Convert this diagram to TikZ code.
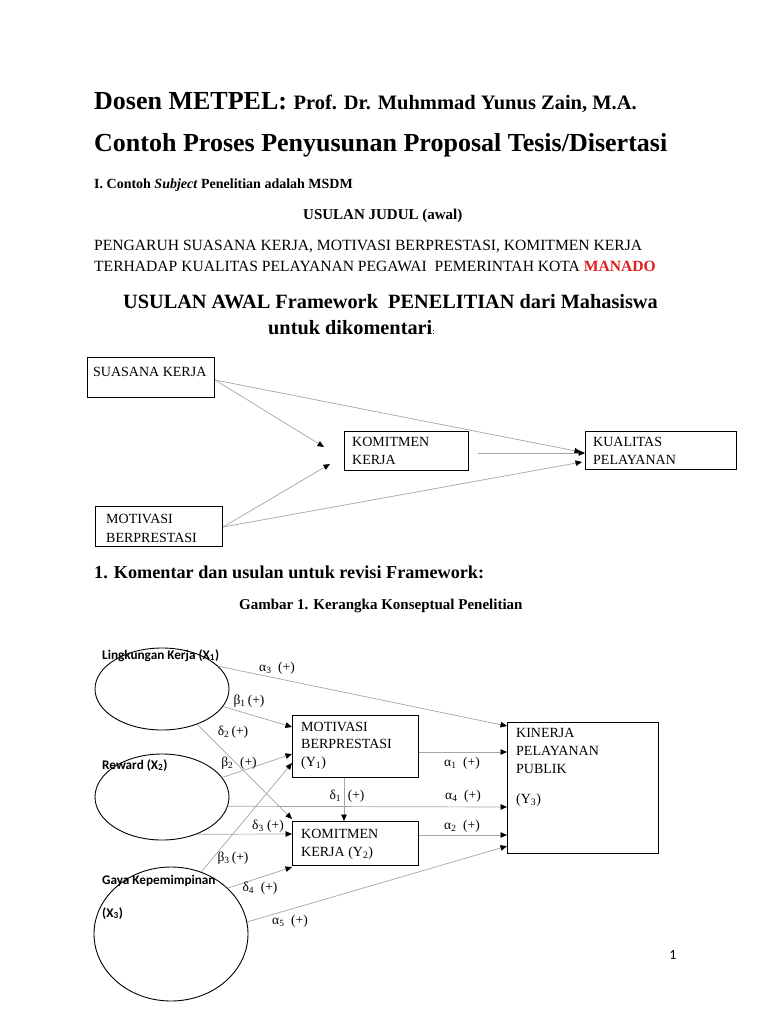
\documentclass[tikz,border=0pt]{standalone}
\usepackage{fontspec}
\setmainfont{Liberation Serif}
\newfontfamily\carlito{Carlito}
\usetikzlibrary{arrows.meta,shapes.geometric}
\newcommand\fs[1]{\fontsize{#1}{#1}\selectfont}
\definecolor{ln}{RGB}{165,165,165}
\definecolor{mred}{RGB}{225,30,30}
\begin{document}
\begin{tikzpicture}[x=1pt,y=-1pt,
  box/.style={draw=black,line width=1.1pt,inner sep=0pt,anchor=north west},
  ell/.style={draw=black,ellipse,line width=0.9pt,inner sep=0pt},
  con/.style={draw=ln,line width=0.7pt,-{Triangle[length=6.5pt,width=5.5pt,color=black]}},
  txt/.style={anchor=base west,inner sep=0pt,font=\fs{14}},
  hd/.style={anchor=base west,inner sep=0pt},
  sans/.style={anchor=base west,inner sep=0pt,font=\carlito\bfseries\fs{13.2}},
  lab/.style={inner sep=0pt,font=\fs{13.5}}
]
\fill[white] (0,0) rectangle (768,1024);
\useasboundingbox (0,0) rectangle (768,1024);

% headings
\node[hd] (h1) at (94,110) {\fs{26}\bfseries Dosen METPEL: {\fs{20.5}Prof. Dr. Muhmmad Yunus Zain, M.A.}};
\node[hd] (h2) at (94,152) {\fs{26}\bfseries Contoh Proses Penyusunan Proposal Tesis/Disertasi};
\node[hd] (h3) at (94,189) {\fs{14}\bfseries I. Contoh \textit{Subject} Penelitian adalah MSDM};
\node[hd] (h4) at (303,220) {\fs{15}\bfseries USULAN JUDUL (awal)};
\node[hd] (t1) at (94,251) {\fs{15.6}PENGARUH SUASANA KERJA, MOTIVASI BERPRESTASI, KOMITMEN KERJA};
\node[hd] (t2) at (94,271) {\fs{15.6}TERHADAP KUALITAS PELAYANAN PEGAWAI\ \ PEMERINTAH KOTA {\color{mred}\bfseries MANADO}};
\node[hd] (h5) at (123,308) {\fs{20.3}\bfseries USULAN AWAL Framework\ \ PENELITIAN dari Mahasiswa};
\node[hd] (h6) at (268,334) {\fs{20.3}\bfseries untuk dikomentari{\fs{9}\mdseries :}};
\node[hd] (h7) at (94,578) {\fs{18.2}\bfseries 1. Komentar dan usulan untuk revisi Framework:};
\node[hd] (h8) at (239,609) {\fs{15}\bfseries Gambar 1. Kerangka Konseptual Penelitian};

% upper diagram
\node[box,minimum width=127pt,minimum height=40pt] (sk) at (87,357) {};
\node[txt] (skt) at (93,376) {SUASANA KERJA};
\node[box,minimum width=124pt,minimum height=39pt] (kk) at (344,431) {};
\node[txt] (kkt1) at (352,446) {KOMITMEN};
\node[txt] (kkt2) at (352,464) {KERJA};
\node[box,minimum width=151pt,minimum height=38pt] (kp) at (585,431) {};
\node[txt] (kpt1) at (593,446) {KUALITAS};
\node[txt] (kpt2) at (593,464) {PELAYANAN};
\node[box,minimum width=127pt,minimum height=40pt] (mb) at (95,506) {};
\node[txt] (mbt1) at (106,523) {MOTIVASI};
\node[txt] (mbt2) at (106,542) {BERPRESTASI};

\coordinate (tipA) at (324,447);
\coordinate (tipB) at (330,464);
\draw[con] ([yshift=-23pt]sk.north east) -- (tipA);
\draw[con] ([yshift=-23pt]sk.north east) -- ([xshift=-4pt,yshift=-21pt]kp.north west);
\draw[con] ([yshift=-21pt]mb.north east) -- (tipB);
\draw[con] ([yshift=-21pt]mb.north east) -- ([xshift=-3pt,yshift=-31pt]kp.north west);
\draw[con] ([xshift=9pt,yshift=-22pt]kk.north east) -- ([yshift=-22pt]kp.north west);

% lower diagram
\node[ell,minimum width=134pt,minimum height=82pt] (lk) at (162,689) {};
\node[ell,minimum width=134pt,minimum height=86pt] (rw) at (162,797) {};
\node[ell,minimum width=154pt,minimum height=134pt] (gy) at (171,934) {};
\node[sans] (lkt) at (102,659) {Lingkungan Kerja (X\textsubscript{1})};
\node[sans] (rwt) at (102,769) {Reward (X\textsubscript{2})};
\node[sans] (gyt1) at (102,884) {Gaya Kepemimpinan};
\node[sans] (gyt2) at (102,917) {(X\textsubscript{3})};

\node[box,minimum width=126pt,minimum height=62pt] (mo) at (292,715) {};
\node[txt] (mot1) at (301,731) {MOTIVASI};
\node[txt] (mot2) at (301,748) {BERPRESTASI};
\node[txt] (mot3) at (301,766) {(Y\textsubscript{1})};
\node[box,minimum width=126pt,minimum height=44pt] (ko) at (292,821) {};
\node[txt] (kot1) at (301,838) {KOMITMEN};
\node[txt] (kot2) at (301,856) {KERJA (Y\textsubscript{2})};
\node[box,minimum width=151pt,minimum height=131pt] (ki) at (507,722) {};
\node[txt] (kit1) at (516,737) {KINERJA};
\node[txt] (kit2) at (516,755) {PELAYANAN};
\node[txt] (kit3) at (516,773) {PUBLIK};
\node[txt] (kit4) at (516,803) {(Y\textsubscript{3})};

\draw[con] (lk.22) -- ([yshift=-4pt]ki.north west);
\draw[con] (lk.-16) -- ([yshift=-12pt]mo.north west);
\draw[con] (lk.-45) -- ([yshift=2pt]ko.north west);
\draw[con] (rw.18) -- ([yshift=-39pt]mo.north west);
\draw[con] (rw.-8.7) -- ([yshift=-85pt]ki.north west);
\draw[con] (rw.-47) -- ([yshift=-13pt]ko.north west);
\draw[con] (gy.64) -- ([yshift=-48pt]mo.north west);
\draw[con] (gy.39) -- ([yshift=-1pt]ko.south west);
\draw[con] (gy.9) -- ([yshift=8pt]ki.south west);
\draw[con] ([yshift=-37pt]mo.north east) -- ([yshift=-30pt]ki.north west);
\draw[con] ([yshift=-14pt]ko.north east) -- ([yshift=-113pt]ki.north west);
\draw[con] ([xshift=52pt]mo.south west) -- ([xshift=52pt]ko.north west);

\node[lab] (a3) at (277,668) {α\textsubscript{3}\ \ (+)};
\node[lab] (b1) at (249,701) {β\textsubscript{1}\,(+)};
\node[lab] (d2) at (233,732) {δ\textsubscript{2}\,(+)};
\node[lab] (b2) at (239,763) {β\textsubscript{2}\ \ (+)};
\node[lab] (d3) at (268,826) {δ\textsubscript{3}\ (+)};
\node[lab] (b3) at (233,858) {β\textsubscript{3}\,(+)};
\node[lab] (d4) at (260,888) {δ\textsubscript{4}\ \ (+)};
\node[lab] (a5) at (290,921) {α\textsubscript{5}\ \ (+)};
\node[lab] (a1) at (462,763) {α\textsubscript{1}\ \ (+)};
\node[lab] (a4) at (463,796) {α\textsubscript{4}\ \ (+)};
\node[lab] (a2) at (462,826) {α\textsubscript{2}\ \ (+)};
\node[lab] (d1) at (347,796) {δ\textsubscript{1}\ \ (+)};

\node[inner sep=0pt,font=\carlito\fs{14}] (pg) at (673,955) {1};
\end{tikzpicture}
\end{document}
